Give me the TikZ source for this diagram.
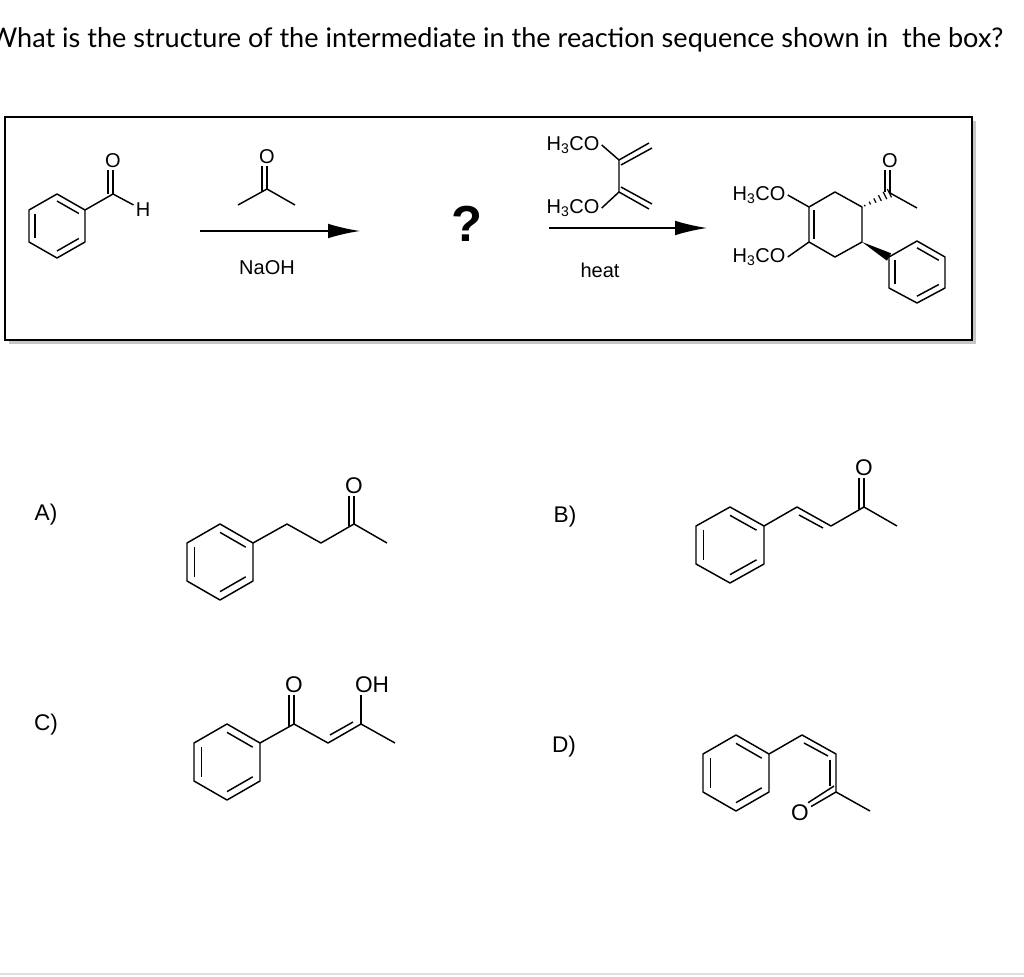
\documentclass[tikz,border=0pt]{standalone}
\usepackage{fontspec}
\setmainfont{Liberation Sans}
\newfontfamily\latofont{Lato}
\usetikzlibrary{calc,arrows.meta}
\tikzset{
  bond/.style={line width=1.1pt, line join=round},
  lab/.style={inner sep=1.5pt, font=\fontsize{15}{15}\selectfont},
  alab/.style={inner sep=1.5pt, font=\fontsize{17}{17}\selectfont},
  optlab/.style={font=\fontsize{17}{17}\selectfont},
  rxnarrow/.style={line width=1.1pt, -{Latex[length=24pt,width=11pt]}}
}
\newcommand{\hexring}[7]{%
  \coordinate (#1a) at #2; \coordinate (#1b) at #3; \coordinate (#1c) at #4;
  \coordinate (#1d) at #5; \coordinate (#1e) at #6; \coordinate (#1f) at #7;
  \coordinate (#1o) at ($(#1a)!0.5!(#1d)$);
  \draw[bond] (#1a)--(#1b)--(#1c)--(#1d)--(#1e)--(#1f)--cycle;
  \draw[bond] ($(#1a)!0.22!(#1o)$)--($(#1b)!0.22!(#1o)$);
  \draw[bond] ($(#1c)!0.22!(#1o)$)--($(#1d)!0.22!(#1o)$);
  \draw[bond] ($(#1e)!0.22!(#1o)$)--($(#1f)!0.22!(#1o)$);
}
\begin{document}
\begin{tikzpicture}[x=0.75pt,y=-0.75pt]
\useasboundingbox (0,0) rectangle (1024,977);
% title
\node[anchor=west, inner sep=0, font=\latofont\fontsize{20.3}{21}\selectfont] (title) at (-11,40) {What is the structure of the intermediate in the reaction sequence shown in \ the box?};
% box
\fill[gray!45] (9,121) rectangle (976,344);
\draw[line width=1.3pt, fill=white] (5,117) rectangle (972,340);
% benzaldehyde
\hexring{p}{(57,194)}{(85,210)}{(85,242)}{(57,258)}{(29,242)}{(29,210)}
\coordinate (c1) at (113,194);
\node[lab] (o1) at (113,161) {O};
\node[lab] (h1) at (143,210) {H};
\draw[bond] (pb)--(c1)--(h1);
\draw[bond] (c1)--(o1);
\draw[bond] ($(c1)+(-5,0)$)--($(o1.south)+(-5,0)$);
% acetone
\coordinate (ac) at (267,189);
\coordinate (al) at (238,205); \coordinate (ar) at (295,205);
\node[lab] (o2) at (267,157) {O};
\draw[bond] (al)--(ac)--(ar);
\draw[bond] (ac)--(o2);
\draw[bond] ($(ac)+(-5,2)$)--($(o2.south)+(-5,0)$);
% arrow 1
\coordinate (a1s) at (200,231); \coordinate (a1e) at (360,231);
\draw[rxnarrow] (a1s)--(a1e);
\node[lab] (naoh) at (267,268) {NaOH};
\node[font=\bfseries\fontsize{38}{38}\selectfont] (q) at (467,224) {?};
% diene
\coordinate (d1) at (619,160); \coordinate (d1e) at (649,143);
\coordinate (d2) at (619,192); \coordinate (d2e) at (649,209);
\node[lab] (m1) at (573,145) {H\textsubscript{3}CO};
\node[lab] (m2) at (573,208) {H\textsubscript{3}CO};
\draw[bond] (m1.east)--(d1)--(d2)--(m2.east);
\draw[bond] (d1)--(d1e); \draw[bond] ($(d1)+(2,5)$)--($(d1e)+(3,5)$);
\draw[bond] (d2)--(d2e); \draw[bond] ($(d2)+(2,-5)$)--($(d2e)+(3,-5)$);
% arrow 2
\coordinate (a2s) at (549,228); \coordinate (a2e) at (707,228);
\draw[rxnarrow] (a2s)--(a2e);
\node[lab] (heat) at (600,270) {heat};
% product
\coordinate (r1) at (809,207); \coordinate (r2) at (809,242); \coordinate (r3) at (835,257);
\coordinate (r4) at (862,242); \coordinate (r5) at (862,207); \coordinate (r6) at (835,192);
\draw[bond] (r1)--(r2)--(r3)--(r4)--(r5)--(r6)--cycle;
\draw[bond] ($(r1)+(5,3)$)--($(r2)+(5,-3)$);
\node[lab] (m3) at (759,195) {H\textsubscript{3}CO};
\node[lab] (m4) at (759,257) {H\textsubscript{3}CO};
\draw[bond] (m3.east)--(r1); \draw[bond] (m4.east)--(r2);
\coordinate (k) at (890,193); \coordinate (km) at (917,208);
\node[lab] (o3) at (890,161) {O};
\draw[bond] (k)--(km); \draw[bond] (k)--(o3);
\draw[bond] ($(k)+(-5,-1)$)--($(o3.south)+(-5,0)$);
\foreach \t/\w in {.1/0.6,.28/1.2,.46/1.8,.64/2.4,.82/3.0,.98/3.5}
  \draw[line width=0.9pt] ($($(r5)!\t!(k)$)!\w pt!90:(k)$)--($($(r5)!\t!(k)$)!\w pt!-90:(k)$);
\hexring{q}{(917,241)}{(945,257)}{(945,288)}{(917,303)}{(889,288)}{(889,257)}
\fill ($(r4)$)--($(qf)!3.2pt!90:(r4)$)--($(qf)!3.2pt!-90:(r4)$)--cycle;
% option A
\node[optlab] (la) at (46,515) {A)};
\hexring{A}{(220,524)}{(253,543)}{(253,581)}{(220,600)}{(187,581)}{(187,543)}
\coordinate (A1) at (287,524); \coordinate (A2) at (321,543); \coordinate (A3) at (354,524); \coordinate (A4) at (387,543);
\node[alab] (Ao) at (354,486) {O};
\draw[bond] (Ab)--(A1)--(A2)--(A3)--(A4);
\draw[bond] (A3)--(Ao); \draw[bond] ($(A3)+(-5,2)$)--($(Ao.south)+(-5,0)$);
% option B
\node[optlab] (lb) at (565,517) {B)};
\hexring{B}{(730,507)}{(764,526)}{(764,564)}{(730,583)}{(696,564)}{(696,526)}
\coordinate (B1) at (797,507); \coordinate (B2) at (831,526); \coordinate (B3) at (864,507); \coordinate (B4) at (897,526);
\node[alab] (Bo) at (864,468) {O};
\draw[bond] (Bb)--(B1)--(B2)--(B3)--(B4);
\draw[bond] ($(B1)+(2,8)$)--($(B2)+(-8,2)$);
\draw[bond] (B3)--(Bo); \draw[bond] ($(B3)+(-5,2)$)--($(Bo.south)+(-5,0)$);
% option C
\node[optlab] (lc) at (46,725) {C)};
\hexring{C}{(227,724)}{(260,743)}{(260,781)}{(227,800)}{(194,781)}{(194,743)}
\coordinate (C1) at (294,724); \coordinate (C2) at (328,743); \coordinate (C3) at (361,724); \coordinate (C4) at (395,743);
\node[alab] (Co) at (294,685) {O};
\node[alab] (Coh) at (372,685) {OH};
\draw[bond] (Cb)--(C1)--(C2)--(C3)--(C4);
\draw[bond] (C1)--(Co); \draw[bond] ($(C1)+(-5,2)$)--($(Co.south)+(-5,0)$);
\draw[bond] ($(C2)+(2,-8)$)--($(C3)+(-8,-2)$);
\draw[bond] (C3)--(C3|-Coh.south);
% option D
\node[optlab] (ld) at (564,747) {D)};
\hexring{D}{(736,735)}{(769,754)}{(769,792)}{(736,811)}{(703,792)}{(703,754)}
\coordinate (D1) at (802,735); \coordinate (D2) at (836,754); \coordinate (D3) at (836,792); \coordinate (D4) at (870,811);
\node[alab] (Do) at (800,813) {O};
\draw[bond] (Db)--(D1)--(D2)--(D3)--(D4);
\draw[bond] ($(D1)+(2,8)$)--($(D2)+(-8,2)$);
\draw[bond] ($(D2)+(-6,6)$)--($(D3)+(-6,-6)$);
\draw[bond] (D3)--(Do); \draw[bond] ($(D3)+(-2,-6)$)--($(Do.north east)+(-3,0)$);
% bottom rule
\draw[gray!25, line width=1pt] (0,974)--(1024,974);
\end{tikzpicture}
\end{document}
